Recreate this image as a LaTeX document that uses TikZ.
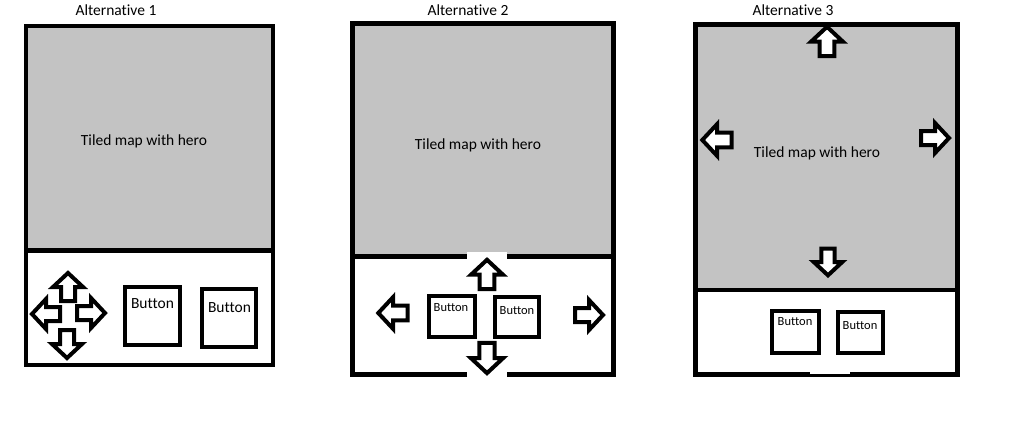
\documentclass[tikz,border=0pt]{standalone}
\usepackage{fontspec}
\setmainfont{Carlito}[Ligatures=NoCommon]
\definecolor{mapgray}{RGB}{195,195,195}
\begin{document}
\begin{tikzpicture}[x=1pt,y=-1pt,
  frame/.style={draw=black,line width=4.5pt},
  divider/.style={draw=black,line width=4.5pt},
  mapfill/.style={fill=mapgray},
  btn/.style={draw=black,line width=4pt,fill=white,rectangle,inner sep=0pt},
  btnsmall/.style={btn,line width=3.5pt},
  lbl/.style={font=\fontsize{15.5}{18}\selectfont,inner sep=0pt},
  btnlbl/.style={font=\fontsize{15.5}{18}\selectfont,inner sep=0pt},
  btnlblsmall/.style={font=\fontsize{12.5}{15}\selectfont,inner sep=0pt},
  arrowstyle/.style={draw=black,line width=4pt,fill=white,line join=miter},
  barrow/.pic={\draw[arrowstyle] (-14,-7)--(0,-7)--(0,-15)--(14,0)--(0,15)--(0,7)--(-14,7)--cycle;}
]
\useasboundingbox (0,0) rectangle (1024,437);
\fill[white] (0,0) rectangle (1024,437);

% ---------- Alternative 1 ----------
\node[lbl] (t1) at (116,10) {Alternative 1};
\fill[mapfill] (26,26) rectangle (273,250);
\draw[frame] (26,26) rectangle (273,365);
\draw[divider] (26,250.5) -- (273,250.5);
\node[lbl] (m1) at (144,141) {Tiled map with hero};
\pic[rotate=90] at (68,287) {barrow};
\pic[rotate=180] at (46,314) {barrow};
\pic at (91,313) {barrow};
\pic[rotate=-90] at (67,344) {barrow};
\node[btn,minimum width=55pt,minimum height=58pt] (a1b1) at (152.5,316) {};
\node[btn,minimum width=54pt,minimum height=58pt] (a1b2) at (229,318) {};
\node[btnlbl] (a1l1) at (152.5,304) {Button};
\node[btnlbl] (a1l2) at (229.5,308) {Button};

% ---------- Alternative 2 ----------
\node[lbl] (t2) at (468,10) {Alternative 2};
\fill[mapfill] (352.5,23.5) rectangle (613.5,256);
\draw[frame] (352.5,23.5) rectangle (613.5,374.5);
\draw[divider] (352.5,256.5) -- (613.5,256.5);
\fill[white] (467,252) rectangle (507,261);
\fill[white] (467,371) rectangle (507,379);
\node[lbl] (m2) at (478,145) {Tiled map with hero};
\pic[rotate=90,scale=1.05] at (487,274.5) {barrow};
\pic[rotate=-90,scale=1.08] at (487,358) {barrow};
\pic[rotate=180,scale=1.05] at (393,313) {barrow};
\pic[scale=1.0] at (589,315) {barrow};
\node[btnsmall,minimum width=46pt,minimum height=41pt] (a2b1) at (452,316.5) {};
\node[btnsmall,minimum width=44pt,minimum height=40pt] (a2b2) at (517,317) {};
\node[btnlblsmall] (a2l1) at (451,308) {Button};
\node[btnlblsmall] (a2l2) at (517,311) {Button};

% ---------- Alternative 3 ----------
\node[lbl] (t3) at (793,10) {Alternative 3};
\fill[mapfill] (695.5,24.5) rectangle (957.5,290);
\draw[frame] (695.5,24.5) rectangle (957.5,374.5);
\draw[divider] (695.5,290) -- (960,290);
\fill[white] (810,371.5) rectangle (850,373.5);
\node[lbl] (m3) at (817,153) {Tiled map with hero};
\pic[rotate=90,scale=1.05] at (827,41.5) {barrow};
\pic[rotate=180,scale=1.05] at (717,140) {barrow};
\pic[scale=1.0] at (935,138) {barrow};
\pic[rotate=-90,scale=0.95] at (828,262) {barrow};
\node[btnsmall,minimum width=47pt,minimum height=42pt] (a3b1) at (795.5,332) {};
\node[btnsmall,minimum width=45pt,minimum height=41pt] (a3b2) at (860.5,332.5) {};
\node[btnlblsmall] (a3l1) at (795,322) {Button};
\node[btnlblsmall] (a3l2) at (860,326) {Button};
\end{tikzpicture}
\end{document}
